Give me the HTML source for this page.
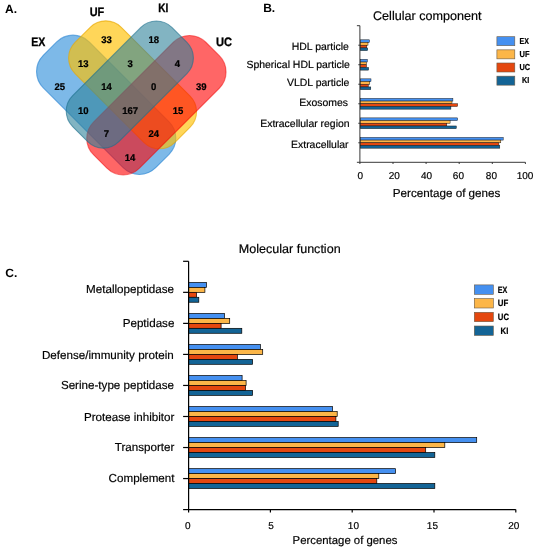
<!DOCTYPE html>
<html><head><meta charset="utf-8"><title>Figure</title>
<style>
html,body{margin:0;padding:0;background:#fff;}
svg{display:block;filter:blur(0.35px);}
svg text{font-family:"Liberation Sans",sans-serif;text-rendering:geometricPrecision;}
</style></head><body>
<svg width="537" height="550" viewBox="0 0 537 550">
<rect width="537" height="550" fill="#fff"/>
<g shape-rendering="geometricPrecision">
<rect x="69.72" y="-33.45" width="158.96" height="64.98" rx="23.00" transform="rotate(45)" fill="#268ad9" fill-opacity="0.60" stroke="#1f7fd0" stroke-width="1.1" stroke-opacity="0.60"/>
<rect x="83.09" y="-66.47" width="141.28" height="65.41" rx="22.00" transform="rotate(45)" fill="#ffc000" fill-opacity="0.65" stroke="#e8a800" stroke-width="1.1" stroke-opacity="0.65"/>
<rect x="152.45" y="-115.68" width="65.05" height="158.96" rx="23.00" transform="rotate(45)" fill="#ff0000" fill-opacity="0.60" stroke="#f00000" stroke-width="1.1" stroke-opacity="0.50"/>
<rect x="118.94" y="-102.18" width="65.27" height="140.36" rx="22.00" transform="rotate(45)" fill="#2f8299" fill-opacity="0.60" stroke="#1a6e8c" stroke-width="1.1" stroke-opacity="0.60"/>
</g>
<text x="106.50" y="43.10" font-size="9.70" font-weight="bold" text-anchor="middle" fill="#000" textLength="10.60" lengthAdjust="spacingAndGlyphs" stroke="#000" stroke-width="0.22">33</text>
<text x="153.70" y="43.10" font-size="9.70" font-weight="bold" text-anchor="middle" fill="#000" textLength="10.60" lengthAdjust="spacingAndGlyphs" stroke="#000" stroke-width="0.22">18</text>
<text x="83.30" y="66.50" font-size="9.70" font-weight="bold" text-anchor="middle" fill="#000" textLength="10.60" lengthAdjust="spacingAndGlyphs" stroke="#000" stroke-width="0.22">13</text>
<text x="130.10" y="66.50" font-size="9.70" font-weight="bold" text-anchor="middle" fill="#000" textLength="5.30" lengthAdjust="spacingAndGlyphs" stroke="#000" stroke-width="0.22">3</text>
<text x="177.30" y="66.50" font-size="9.70" font-weight="bold" text-anchor="middle" fill="#000" textLength="5.30" lengthAdjust="spacingAndGlyphs" stroke="#000" stroke-width="0.22">4</text>
<text x="59.70" y="90.00" font-size="9.70" font-weight="bold" text-anchor="middle" fill="#000" textLength="10.60" lengthAdjust="spacingAndGlyphs" stroke="#000" stroke-width="0.22">25</text>
<text x="106.50" y="90.00" font-size="9.70" font-weight="bold" text-anchor="middle" fill="#000" textLength="10.60" lengthAdjust="spacingAndGlyphs" stroke="#000" stroke-width="0.22">14</text>
<text x="153.70" y="90.00" font-size="9.70" font-weight="bold" text-anchor="middle" fill="#000" textLength="5.30" lengthAdjust="spacingAndGlyphs" stroke="#000" stroke-width="0.22">0</text>
<text x="201.20" y="90.00" font-size="9.70" font-weight="bold" text-anchor="middle" fill="#000" textLength="10.60" lengthAdjust="spacingAndGlyphs" stroke="#000" stroke-width="0.22">39</text>
<text x="83.30" y="113.60" font-size="9.70" font-weight="bold" text-anchor="middle" fill="#000" textLength="10.60" lengthAdjust="spacingAndGlyphs" stroke="#000" stroke-width="0.22">10</text>
<text x="130.10" y="113.60" font-size="9.70" font-weight="bold" text-anchor="middle" fill="#000" textLength="15.90" lengthAdjust="spacingAndGlyphs" stroke="#000" stroke-width="0.22">167</text>
<text x="178.10" y="113.60" font-size="9.70" font-weight="bold" text-anchor="middle" fill="#000" textLength="10.60" lengthAdjust="spacingAndGlyphs" stroke="#000" stroke-width="0.22">15</text>
<text x="106.50" y="137.00" font-size="9.70" font-weight="bold" text-anchor="middle" fill="#000" textLength="5.30" lengthAdjust="spacingAndGlyphs" stroke="#000" stroke-width="0.22">7</text>
<text x="153.70" y="137.00" font-size="9.70" font-weight="bold" text-anchor="middle" fill="#000" textLength="10.60" lengthAdjust="spacingAndGlyphs" stroke="#000" stroke-width="0.22">24</text>
<text x="130.10" y="160.60" font-size="9.70" font-weight="bold" text-anchor="middle" fill="#000" textLength="10.60" lengthAdjust="spacingAndGlyphs" stroke="#000" stroke-width="0.22">14</text>
<text x="31.20" y="46.30" font-size="12.20" font-weight="bold" text-anchor="start" fill="#000" textLength="14.10" lengthAdjust="spacingAndGlyphs" stroke="#000" stroke-width="0.3">EX</text>
<text x="89.70" y="16.10" font-size="12.20" font-weight="bold" text-anchor="start" fill="#000" textLength="14.50" lengthAdjust="spacingAndGlyphs" stroke="#000" stroke-width="0.3">UF</text>
<text x="158.30" y="11.60" font-size="12.20" font-weight="bold" text-anchor="start" fill="#000" textLength="10.10" lengthAdjust="spacingAndGlyphs" stroke="#000" stroke-width="0.3">KI</text>
<text x="216.00" y="45.80" font-size="12.20" font-weight="bold" text-anchor="start" fill="#000" textLength="16.10" lengthAdjust="spacingAndGlyphs" stroke="#000" stroke-width="0.3">UC</text>
<text x="5.00" y="12.50" font-size="12.00" font-weight="bold" text-anchor="start" fill="#000" >A.</text>
<text x="263.20" y="11.70" font-size="12.00" font-weight="bold" text-anchor="start" fill="#000" >B.</text>
<text x="5.30" y="276.70" font-size="12.00" font-weight="bold" text-anchor="start" fill="#000" >C.</text>
<rect x="360.20" y="39.81" width="9.20" height="2.70" fill="#4590f0" stroke="#111" stroke-width="0.45"/>
<rect x="360.20" y="42.51" width="7.80" height="2.70" fill="#fcb648" stroke="#111" stroke-width="0.45"/>
<rect x="360.20" y="45.21" width="6.60" height="2.70" fill="#e4470f" stroke="#111" stroke-width="0.45"/>
<rect x="360.20" y="47.91" width="7.50" height="2.70" fill="#136496" stroke="#111" stroke-width="0.45"/>
<text x="348.80" y="49.55" font-size="10.45" font-weight="normal" text-anchor="end" fill="#000"  stroke="#000" stroke-width="0.18">HDL particle</text>
<rect x="360.20" y="59.33" width="7.10" height="2.70" fill="#4590f0" stroke="#111" stroke-width="0.45"/>
<rect x="360.20" y="62.03" width="6.30" height="2.70" fill="#fcb648" stroke="#111" stroke-width="0.45"/>
<rect x="360.20" y="64.73" width="6.30" height="2.70" fill="#e4470f" stroke="#111" stroke-width="0.45"/>
<rect x="360.20" y="67.43" width="8.40" height="2.70" fill="#136496" stroke="#111" stroke-width="0.45"/>
<text x="349.90" y="67.75" font-size="10.45" font-weight="normal" text-anchor="end" fill="#000"  stroke="#000" stroke-width="0.18">Spherical HDL particle</text>
<rect x="360.20" y="78.84" width="10.80" height="2.70" fill="#4590f0" stroke="#111" stroke-width="0.45"/>
<rect x="360.20" y="81.54" width="9.60" height="2.70" fill="#fcb648" stroke="#111" stroke-width="0.45"/>
<rect x="360.20" y="84.24" width="8.10" height="2.70" fill="#e4470f" stroke="#111" stroke-width="0.45"/>
<rect x="360.20" y="86.94" width="10.60" height="2.70" fill="#136496" stroke="#111" stroke-width="0.45"/>
<text x="349.30" y="86.20" font-size="10.45" font-weight="normal" text-anchor="end" fill="#000"  stroke="#000" stroke-width="0.18">VLDL particle</text>
<rect x="360.20" y="98.36" width="92.70" height="2.70" fill="#4590f0" stroke="#111" stroke-width="0.45"/>
<rect x="360.20" y="101.06" width="91.80" height="2.70" fill="#fcb648" stroke="#111" stroke-width="0.45"/>
<rect x="360.20" y="103.76" width="97.40" height="2.70" fill="#e4470f" stroke="#111" stroke-width="0.45"/>
<rect x="360.20" y="106.46" width="90.70" height="2.70" fill="#136496" stroke="#111" stroke-width="0.45"/>
<text x="348.00" y="106.30" font-size="10.45" font-weight="normal" text-anchor="end" fill="#000"  stroke="#000" stroke-width="0.18">Exosomes</text>
<rect x="360.20" y="117.87" width="97.40" height="2.70" fill="#4590f0" stroke="#111" stroke-width="0.45"/>
<rect x="360.20" y="120.57" width="89.90" height="2.70" fill="#fcb648" stroke="#111" stroke-width="0.45"/>
<rect x="360.20" y="123.27" width="86.60" height="2.70" fill="#e4470f" stroke="#111" stroke-width="0.45"/>
<rect x="360.20" y="125.97" width="96.10" height="2.70" fill="#136496" stroke="#111" stroke-width="0.45"/>
<text x="349.60" y="127.30" font-size="10.45" font-weight="normal" text-anchor="end" fill="#000"  stroke="#000" stroke-width="0.18">Extracellular region</text>
<rect x="360.20" y="137.39" width="143.00" height="2.70" fill="#4590f0" stroke="#111" stroke-width="0.45"/>
<rect x="360.20" y="140.09" width="140.60" height="2.70" fill="#fcb648" stroke="#111" stroke-width="0.45"/>
<rect x="360.20" y="142.79" width="138.70" height="2.70" fill="#e4470f" stroke="#111" stroke-width="0.45"/>
<rect x="360.20" y="145.49" width="139.60" height="2.70" fill="#136496" stroke="#111" stroke-width="0.45"/>
<text x="348.50" y="148.00" font-size="10.45" font-weight="normal" text-anchor="end" fill="#000"  stroke="#000" stroke-width="0.18">Extracellular</text>
<g stroke="#222" stroke-width="0.9" fill="none">
<path d="M359.90 25.70 V162.30 H525.40"/>
<path d="M356.90 25.70 H359.90"/>
<path d="M358.30 45.21 H359.90"/>
<path d="M358.30 64.73 H359.90"/>
<path d="M358.30 84.24 H359.90"/>
<path d="M358.30 103.76 H359.90"/>
<path d="M358.30 123.27 H359.90"/>
<path d="M358.30 142.79 H359.90"/>
<path d="M356.90 162.30 H359.90"/>
<path d="M359.90 162.30 V164.00"/>
<path d="M393.00 162.30 V164.00"/>
<path d="M426.10 162.30 V164.00"/>
<path d="M459.20 162.30 V164.00"/>
<path d="M492.30 162.30 V164.00"/>
<path d="M525.40 162.30 V164.00"/>
</g>
<text x="360.20" y="178.80" font-size="10.00" font-weight="normal" text-anchor="middle" fill="#000"  stroke="#000" stroke-width="0.18">0</text>
<text x="394.30" y="178.80" font-size="10.00" font-weight="normal" text-anchor="middle" fill="#000"  stroke="#000" stroke-width="0.18">20</text>
<text x="426.60" y="178.80" font-size="10.00" font-weight="normal" text-anchor="middle" fill="#000"  stroke="#000" stroke-width="0.18">40</text>
<text x="458.40" y="178.80" font-size="10.00" font-weight="normal" text-anchor="middle" fill="#000"  stroke="#000" stroke-width="0.18">60</text>
<text x="491.40" y="178.80" font-size="10.00" font-weight="normal" text-anchor="middle" fill="#000"  stroke="#000" stroke-width="0.18">80</text>
<text x="525.10" y="178.80" font-size="10.00" font-weight="normal" text-anchor="middle" fill="#000"  stroke="#000" stroke-width="0.18">100</text>
<text x="392.80" y="196.80" font-size="11.66" font-weight="normal" text-anchor="start" fill="#000"  stroke="#000" stroke-width="0.18">Percentage of genes</text>
<text x="373.00" y="20.10" font-size="12.60" font-weight="normal" text-anchor="start" fill="#000"  stroke="#000" stroke-width="0.18">Cellular component</text>
<rect x="496.90" y="36.70" width="17.90" height="9.00" fill="#4590f0" stroke="#6b5a45" stroke-width="0.6"/>
<text x="519.50" y="43.99" font-size="8.70" font-weight="bold" text-anchor="start" fill="#000" textLength="9.40" lengthAdjust="spacingAndGlyphs" stroke="#000" stroke-width="0.2">EX</text>
<rect x="496.90" y="49.85" width="17.90" height="9.00" fill="#fcb648" stroke="#6b5a45" stroke-width="0.6"/>
<text x="519.50" y="57.14" font-size="8.70" font-weight="bold" text-anchor="start" fill="#000" textLength="10.00" lengthAdjust="spacingAndGlyphs" stroke="#000" stroke-width="0.2">UF</text>
<rect x="496.90" y="63.00" width="17.90" height="9.00" fill="#e4470f" stroke="#6b5a45" stroke-width="0.6"/>
<text x="519.50" y="70.29" font-size="8.70" font-weight="bold" text-anchor="start" fill="#000" textLength="10.60" lengthAdjust="spacingAndGlyphs" stroke="#000" stroke-width="0.2">UC</text>
<rect x="496.90" y="76.15" width="17.90" height="9.00" fill="#136496" stroke="#6b5a45" stroke-width="0.6"/>
<text x="522.00" y="83.44" font-size="8.70" font-weight="bold" text-anchor="start" fill="#000" textLength="7.30" lengthAdjust="spacingAndGlyphs" stroke="#000" stroke-width="0.2">KI</text>
<rect x="188.60" y="282.44" width="17.80" height="4.95" fill="#4590f0" stroke="#000" stroke-width="0.7"/>
<rect x="188.60" y="287.39" width="16.30" height="4.95" fill="#fcb648" stroke="#000" stroke-width="0.7"/>
<rect x="188.60" y="292.34" width="8.00" height="4.95" fill="#e4470f" stroke="#000" stroke-width="0.7"/>
<rect x="188.60" y="297.29" width="10.20" height="4.95" fill="#136496" stroke="#000" stroke-width="0.7"/>
<text x="174.00" y="292.65" font-size="11.63" font-weight="normal" text-anchor="end" fill="#000"  stroke="#000" stroke-width="0.18">Metallopeptidase</text>
<rect x="188.60" y="313.48" width="35.90" height="4.95" fill="#4590f0" stroke="#000" stroke-width="0.7"/>
<rect x="188.60" y="318.43" width="41.10" height="4.95" fill="#fcb648" stroke="#000" stroke-width="0.7"/>
<rect x="188.60" y="323.38" width="32.50" height="4.95" fill="#e4470f" stroke="#000" stroke-width="0.7"/>
<rect x="188.60" y="328.33" width="53.20" height="4.95" fill="#136496" stroke="#000" stroke-width="0.7"/>
<text x="174.40" y="326.60" font-size="11.63" font-weight="normal" text-anchor="end" fill="#000"  stroke="#000" stroke-width="0.18">Peptidase</text>
<rect x="188.60" y="344.51" width="71.80" height="4.95" fill="#4590f0" stroke="#000" stroke-width="0.7"/>
<rect x="188.60" y="349.46" width="74.10" height="4.95" fill="#fcb648" stroke="#000" stroke-width="0.7"/>
<rect x="188.60" y="354.41" width="48.80" height="4.95" fill="#e4470f" stroke="#000" stroke-width="0.7"/>
<rect x="188.60" y="359.36" width="64.00" height="4.95" fill="#136496" stroke="#000" stroke-width="0.7"/>
<text x="173.70" y="358.85" font-size="11.63" font-weight="normal" text-anchor="end" fill="#000"  stroke="#000" stroke-width="0.18">Defense/immunity protein</text>
<rect x="188.60" y="375.55" width="53.50" height="4.95" fill="#4590f0" stroke="#000" stroke-width="0.7"/>
<rect x="188.60" y="380.50" width="57.50" height="4.95" fill="#fcb648" stroke="#000" stroke-width="0.7"/>
<rect x="188.60" y="385.45" width="56.90" height="4.95" fill="#e4470f" stroke="#000" stroke-width="0.7"/>
<rect x="188.60" y="390.40" width="64.00" height="4.95" fill="#136496" stroke="#000" stroke-width="0.7"/>
<text x="174.00" y="388.65" font-size="11.63" font-weight="normal" text-anchor="end" fill="#000"  stroke="#000" stroke-width="0.18">Serine-type peptidase</text>
<rect x="188.60" y="406.59" width="143.90" height="4.95" fill="#4590f0" stroke="#000" stroke-width="0.7"/>
<rect x="188.60" y="411.54" width="148.60" height="4.95" fill="#fcb648" stroke="#000" stroke-width="0.7"/>
<rect x="188.60" y="416.49" width="147.30" height="4.95" fill="#e4470f" stroke="#000" stroke-width="0.7"/>
<rect x="188.60" y="421.44" width="149.60" height="4.95" fill="#136496" stroke="#000" stroke-width="0.7"/>
<text x="174.40" y="420.85" font-size="11.63" font-weight="normal" text-anchor="end" fill="#000"  stroke="#000" stroke-width="0.18">Protease inhibitor</text>
<rect x="188.60" y="437.63" width="288.10" height="4.95" fill="#4590f0" stroke="#000" stroke-width="0.7"/>
<rect x="188.60" y="442.58" width="256.20" height="4.95" fill="#fcb648" stroke="#000" stroke-width="0.7"/>
<rect x="188.60" y="447.53" width="237.10" height="4.95" fill="#e4470f" stroke="#000" stroke-width="0.7"/>
<rect x="188.60" y="452.48" width="246.20" height="4.95" fill="#136496" stroke="#000" stroke-width="0.7"/>
<text x="174.40" y="451.40" font-size="11.63" font-weight="normal" text-anchor="end" fill="#000"  stroke="#000" stroke-width="0.18">Transporter</text>
<rect x="188.60" y="468.66" width="206.90" height="4.95" fill="#4590f0" stroke="#000" stroke-width="0.7"/>
<rect x="188.60" y="473.61" width="190.20" height="4.95" fill="#fcb648" stroke="#000" stroke-width="0.7"/>
<rect x="188.60" y="478.56" width="188.20" height="4.95" fill="#e4470f" stroke="#000" stroke-width="0.7"/>
<rect x="188.60" y="483.51" width="246.20" height="4.95" fill="#136496" stroke="#000" stroke-width="0.7"/>
<text x="174.50" y="482.00" font-size="11.63" font-weight="normal" text-anchor="end" fill="#000"  stroke="#000" stroke-width="0.18">Complement</text>
<g stroke="#000" stroke-width="1.2" fill="none">
<path d="M188.60 261.30 V509.60 H515.80"/>
<path d="M183.10 261.30 H188.60"/>
<path d="M183.10 292.34 H188.60"/>
<path d="M183.10 323.38 H188.60"/>
<path d="M183.10 354.41 H188.60"/>
<path d="M183.10 385.45 H188.60"/>
<path d="M183.10 416.49 H188.60"/>
<path d="M183.10 447.53 H188.60"/>
<path d="M183.10 478.56 H188.60"/>
<path d="M183.10 509.60 H188.60"/>
<path d="M188.60 509.60 V512.60"/>
<path d="M270.40 509.60 V512.60"/>
<path d="M352.20 509.60 V512.60"/>
<path d="M434.00 509.60 V512.60"/>
<path d="M515.80 509.60 V512.60"/>
</g>
<text x="187.90" y="528.70" font-size="10.00" font-weight="normal" text-anchor="middle" fill="#000"  stroke="#000" stroke-width="0.18">0</text>
<text x="271.00" y="528.70" font-size="10.00" font-weight="normal" text-anchor="middle" fill="#000"  stroke="#000" stroke-width="0.18">5</text>
<text x="353.40" y="528.70" font-size="10.00" font-weight="normal" text-anchor="middle" fill="#000"  stroke="#000" stroke-width="0.18">10</text>
<text x="432.40" y="528.70" font-size="10.00" font-weight="normal" text-anchor="middle" fill="#000"  stroke="#000" stroke-width="0.18">15</text>
<text x="513.70" y="528.70" font-size="10.00" font-weight="normal" text-anchor="middle" fill="#000"  stroke="#000" stroke-width="0.18">20</text>
<text x="292.60" y="544.30" font-size="11.36" font-weight="normal" text-anchor="start" fill="#000"  stroke="#000" stroke-width="0.18">Percentage of genes</text>
<text x="238.80" y="253.20" font-size="12.56" font-weight="normal" text-anchor="start" fill="#000"  stroke="#000" stroke-width="0.18">Molecular function</text>
<rect x="474.30" y="284.90" width="19.00" height="9.40" fill="#4590f0" stroke="#6b5a45" stroke-width="0.6"/>
<text x="497.80" y="292.51" font-size="9.20" font-weight="bold" text-anchor="start" fill="#000" textLength="9.60" lengthAdjust="spacingAndGlyphs" stroke="#000" stroke-width="0.2">EX</text>
<rect x="474.30" y="298.60" width="19.00" height="9.40" fill="#fcb648" stroke="#6b5a45" stroke-width="0.6"/>
<text x="497.80" y="306.21" font-size="9.20" font-weight="bold" text-anchor="start" fill="#000" textLength="10.50" lengthAdjust="spacingAndGlyphs" stroke="#000" stroke-width="0.2">UF</text>
<rect x="474.30" y="312.30" width="19.00" height="9.40" fill="#e4470f" stroke="#6b5a45" stroke-width="0.6"/>
<text x="497.80" y="319.91" font-size="9.20" font-weight="bold" text-anchor="start" fill="#000" textLength="11.20" lengthAdjust="spacingAndGlyphs" stroke="#000" stroke-width="0.2">UC</text>
<rect x="474.30" y="326.00" width="19.00" height="9.40" fill="#136496" stroke="#6b5a45" stroke-width="0.6"/>
<text x="500.50" y="333.61" font-size="9.20" font-weight="bold" text-anchor="start" fill="#000" textLength="7.80" lengthAdjust="spacingAndGlyphs" stroke="#000" stroke-width="0.2">KI</text>
</svg>
</body></html>
